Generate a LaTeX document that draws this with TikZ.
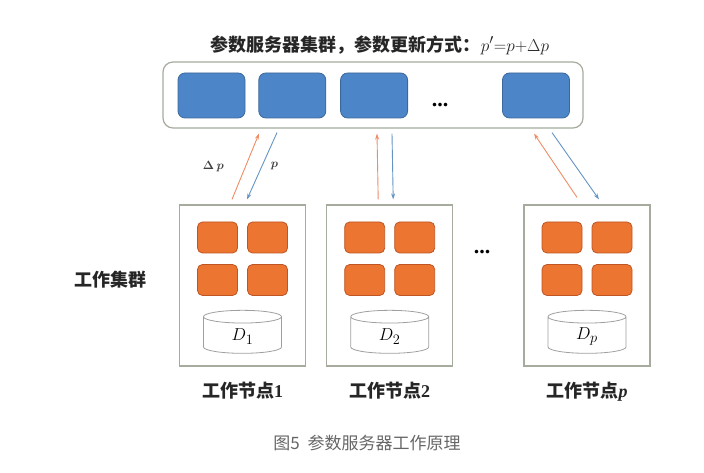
\documentclass[tikz,border=0pt]{standalone}
\usepackage{fontspec}
\setmainfont{Liberation Serif}
\newfontfamily\cjk{Noto Sans CJK SC}
\usepackage{tikz}
\usetikzlibrary{arrows.meta,positioning,calc,shapes.geometric}
\definecolor{srvblue}{RGB}{76,134,200}
\definecolor{srvedge}{RGB}{60,105,155}
\definecolor{coreorange}{RGB}{236,117,50}
\definecolor{coreedge}{RGB}{190,85,35}
\definecolor{frame}{RGB}{165,172,158}
\definecolor{uporange}{RGB}{238,140,100}
\definecolor{downblue}{RGB}{100,148,196}

\begin{document}
\begin{tikzpicture}[x=1pt,y=1pt,pool/.style={draw=frame,line width=1.2pt,rounded corners=10pt,minimum width=420pt,minimum height=66pt},srv/.style={draw=srvedge,fill=srvblue,line width=0.8pt,rounded corners=7pt,minimum width=67pt,minimum height=45pt},worker/.style={draw=frame,line width=1.2pt,minimum width=126pt,minimum height=161pt},core/.style={draw=coreedge,fill=coreorange,line width=0.8pt,rounded corners=5pt,minimum width=40pt,minimum height=31pt},disk/.style={cylinder,shape border rotate=90,aspect=0.45,draw=gray!75,line width=0.8pt,minimum width=78pt,minimum height=43pt,font=\fontsize{19}{19}\selectfont},lab/.style={font=\cjk\bfseries\fontsize{18}{20}\selectfont,text=black!85},dots/.style={font=\bfseries\fontsize{22}{22}\selectfont,anchor=base,inner sep=0pt},up/.style={draw=uporange,line width=0.9pt,-{Stealth[length=6pt,width=4pt]}},down/.style={draw=downblue,line width=0.9pt,-{Stealth[length=6pt,width=4pt]}},tag/.style={font=\boldmath\fontsize{12}{12}\selectfont,text=black!75}]
\useasboundingbox (0,0) rectangle (704,473);
\node[lab] (ttl) at (380,428) {参数服务器集群，参数更新方式：\normalfont\fontsize{19}{20}\selectfont$p'{=}p{+}\Delta p$};
\node[pool] (ps) at (373,378) {};
\node[srv] (s1) at (211.5,377.5) {};
\node[srv,right=13pt of s1] (s2) {};
\node[srv,right=14pt of s2] (s3) {};
\node[srv] (s4) at (536,377.5) {};
\node[dots] (sdots) at (440,366) {...};
\node[worker] (w1) at (242.5,187.5) {};
\node[worker,right=20pt of w1] (w2) {};
\node[worker] (wp) at (587,187.5) {};
\node[dots] (wdots) at (482,219) {...};
% cores of each worker
\node[core] (c1a) at ($(w1)+(-25,48)$) {};
\node[core] (c1b) at ($(w1)+(25,48)$) {};
\node[core] (c1c) at ($(w1)+(-25,5.5)$) {};
\node[core] (c1d) at ($(w1)+(25,5.5)$) {};
\node[core] (c2a) at ($(w2)+(-25,48)$) {};
\node[core] (c2b) at ($(w2)+(25,48)$) {};
\node[core] (c2c) at ($(w2)+(-25,5.5)$) {};
\node[core] (c2d) at ($(w2)+(25,5.5)$) {};
\node[core] (cpa) at ($(wp)+(-25,48)$) {};
\node[core] (cpb) at ($(wp)+(25,48)$) {};
\node[core] (cpc) at ($(wp)+(-25,5.5)$) {};
\node[core] (cpd) at ($(wp)+(25,5.5)$) {};
% local data
\node[disk] (d1) at ($(w1)+(0,-51)$) {$D_1$};
\node[disk] (d2) at ($(w2)+(0,-51)$) {$D_2$};
\node[disk] (dp) at ($(wp)+(0,-51)$) {$D_p$};
\node[lab,below=12pt of w1] (l1) {工作节点\normalfont\bfseries 1};
\node[lab,below=12pt of w2] (l2) {工作节点\normalfont\bfseries 2};
\node[lab,below=12pt of wp] (lp) {工作节点\normalfont\bfseries\itshape p};
\node[lab] (grp) at (110,193) {工作集群};
\node[font=\cjk\fontsize{17}{20}\selectfont,text=black!60] (cap) at (367,30) {图5\ \ 参数服务器工作原理};
% push and pull
\draw[up] ($(w1.north)+(-10.5,5)$) -- node[tag,left=18pt] {$\Delta\,p$} ($(ps.south)+(-114,-5)$);
\draw[down] ($(ps.south)+(-96,-4)$) -- node[tag,right=5pt] {$p$} ($(w1.north)+(4.5,5)$);
\draw[up] ($(w2.north)+(-11.5,5)$) -- ($(ps.south)+(4,-5)$);
\draw[down] ($(ps.south)+(19,-5)$) -- ($(w2.north)+(3.5,5)$);
\draw[up] ($(wp.north)+(-10,7)$) -- ($(ps.south)+(161,-5)$);
\draw[down] ($(ps.south)+(179,-4)$) -- ($(wp.north)+(12,5)$);
\end{tikzpicture}
\end{document}
